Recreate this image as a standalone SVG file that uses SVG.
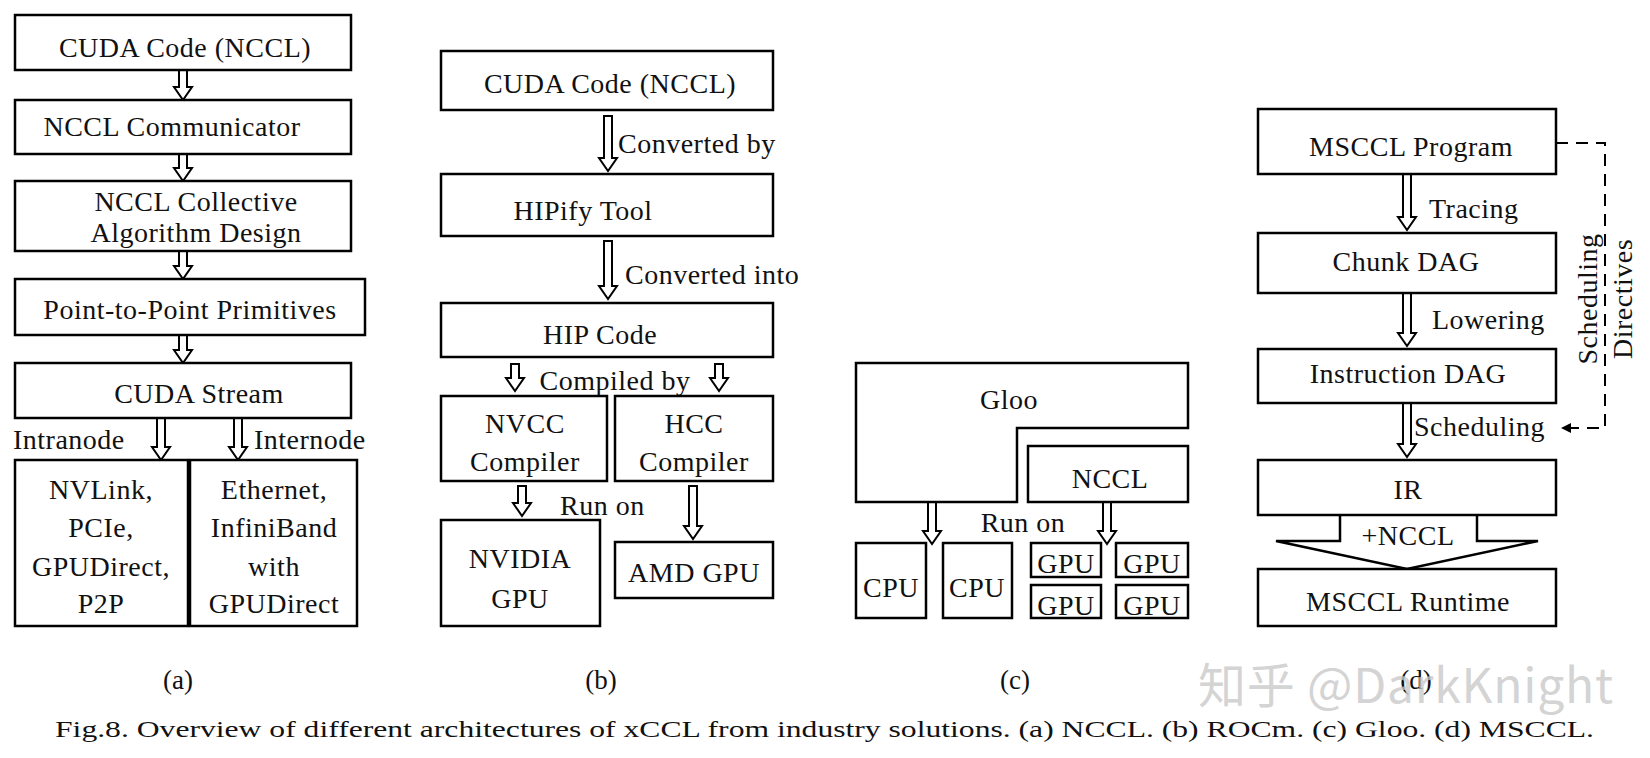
<svg xmlns="http://www.w3.org/2000/svg" width="1650" height="758" viewBox="0 0 1650 758">
<style>
rect,.b{fill:#fff;stroke:#000;stroke-width:2.5}
.a{fill:#fff;stroke:#000;stroke-width:2}
.d{fill:none;stroke:#000;stroke-width:2;stroke-dasharray:12 8}
text{font-family:"Liberation Serif","DejaVu Serif","Noto Serif",serif;font-size:28px;fill:#111;text-anchor:middle;letter-spacing:0.5px}
.l{text-anchor:start}
.cap{font-size:24px;letter-spacing:0}
.wm{font-family:"Noto Sans CJK SC","Liberation Sans",sans-serif;font-size:48px;fill:#c8c8c8;fill-opacity:0.8;text-anchor:start;letter-spacing:2px}
</style>
<defs>
<marker id="ah" viewBox="0 0 10 10" refX="9" refY="5" markerWidth="10" markerHeight="10" markerUnits="userSpaceOnUse" orient="auto"><path d="M0 0L10 5L0 10Z" fill="#000"/></marker>
</defs>
<rect x="0" y="0" width="1650" height="758" style="fill:#fff;stroke:none"/>
<g id="connectors">
<path class="a" d="M179 70V87H174L183 100L192 87H187V70Z"/>
<path class="a" d="M179 154V168H174L183 181L192 168H187V154Z"/>
<path class="a" d="M179 251V266H174L183 279L192 266H187V251Z"/>
<path class="a" d="M179 335V350H174L183 363L192 350H187V335Z"/>
<path class="a" d="M157 418V447H152L161 460L170 447H165V418Z"/>
<path class="a" d="M234 418V447H229L238 460L247 447H242V418Z"/>
<path class="a" d="M604 116V158H599L608 171L617 158H612V116Z"/>
<path class="a" d="M604 241V286H599L608 299L617 286H612V241Z"/>
<path class="a" d="M511 364V378H506L515 391L524 378H519V364Z"/>
<path class="a" d="M715 364V378H710L719 391L728 378H723V364Z"/>
<path class="a" d="M518 486V503H513L522 516L531 503H526V486Z"/>
<path class="a" d="M689 486V526H684L693 539L702 526H697V486Z"/>
<path class="a" d="M928 502V531H923L932 544L941 531H936V502Z"/>
<path class="a" d="M1103 502V531H1098L1107 544L1116 531H1111V502Z"/>
<path class="a" d="M1403 174V217H1398L1407 230L1416 217H1411V174Z"/>
<path class="a" d="M1403 293V333H1398L1407 346L1416 333H1411V293Z"/>
<path class="a" d="M1403 403V444H1398L1407 457L1416 444H1411V403Z"/>
<path class="b" d="M1340 515V541H1276L1407 569L1538 541H1477V515"/>
<path class="d" d="M1556 143H1605V428H1562" marker-end="url(#ah)"/>
</g>
<g id="a-cuda"><rect x="15" y="15" width="336" height="55"/><text x="185" y="57">CUDA Code (NCCL)</text></g>
<g id="a-comm"><rect x="15" y="100" width="336" height="54"/><text x="172" y="136">NCCL Communicator</text></g>
<g id="a-algo"><rect x="15" y="181" width="336" height="70"/><text x="196" y="211">NCCL Collective</text><text x="196" y="242">Algorithm Design</text></g>
<g id="a-p2p"><rect x="15" y="279" width="350" height="56"/><text x="190" y="319">Point-to-Point Primitives</text></g>
<g id="a-stream"><rect x="15" y="363" width="336" height="55"/><text x="199" y="403">CUDA Stream</text></g>
<text class="l" x="13" y="449">Intranode</text>
<text class="l" x="254" y="449">Internode</text>
<g id="a-intra"><rect x="15" y="460" width="173" height="166"/><text x="101" y="499">NVLink,</text><text x="101" y="537">PCIe,</text><text x="101" y="576">GPUDirect,</text><text x="101" y="613">P2P</text></g>
<g id="a-inter"><rect x="190" y="460" width="167" height="166"/><text x="274" y="499">Ethernet,</text><text x="274" y="537">InfiniBand</text><text x="274" y="576">with</text><text x="274" y="613">GPUDirect</text></g>

<g id="b-cuda"><rect x="441" y="51" width="332" height="59"/><text x="610" y="93">CUDA Code (NCCL)</text></g>
<text class="l" x="618" y="153">Converted by</text>
<g id="b-hipify"><rect x="441" y="174" width="332" height="62"/><text x="583" y="220">HIPify Tool</text></g>
<text class="l" x="625" y="284">Converted into</text>
<g id="b-hip"><rect x="441" y="303" width="332" height="54"/><text x="600" y="344">HIP Code</text></g>
<text x="615" y="390">Compiled by</text>
<g id="b-nvcc"><rect x="441" y="396" width="166" height="85"/><text x="525" y="433">NVCC</text><text x="525" y="471">Compiler</text></g>
<g id="b-hcc"><rect x="615" y="396" width="158" height="85"/><text x="694" y="433">HCC</text><text x="694" y="471">Compiler</text></g>
<text class="l" x="560" y="515">Run on</text>
<g id="b-nvidia"><rect x="441" y="520" width="159" height="106"/><text x="520" y="568">NVIDIA</text><text x="520" y="608">GPU</text></g>
<g id="b-amd"><rect x="615" y="542" width="158" height="56"/><text x="694" y="582">AMD GPU</text></g>

<g id="c-gloo"><path class="b" d="M856 363H1188V428H1017V502H856Z"/><text x="1009" y="409">Gloo</text></g>
<g id="c-nccl"><rect x="1028" y="446" width="160" height="56"/><text x="1110" y="488">NCCL</text></g>
<text x="1023" y="532">Run on</text>
<g id="c-cpu1"><rect x="856" y="543" width="70" height="75"/><text x="891" y="597">CPU</text></g>
<g id="c-cpu2"><rect x="943" y="543" width="69" height="75"/><text x="977" y="597">CPU</text></g>
<g id="c-gpu1"><rect x="1031" y="543" width="70" height="34"/><text x="1066" y="573">GPU</text></g>
<g id="c-gpu2"><rect x="1116" y="543" width="72" height="34"/><text x="1152" y="573">GPU</text></g>
<g id="c-gpu3"><rect x="1031" y="585" width="70" height="33"/><text x="1066" y="615">GPU</text></g>
<g id="c-gpu4"><rect x="1116" y="585" width="72" height="33"/><text x="1152" y="615">GPU</text></g>

<g id="d-prog"><rect x="1258" y="109" width="298" height="65"/><text x="1411" y="156">MSCCL Program</text></g>
<text class="l" x="1429" y="218">Tracing</text>
<g id="d-chunk"><rect x="1258" y="233" width="298" height="60"/><text x="1406" y="271">Chunk DAG</text></g>
<text class="l" x="1432" y="329">Lowering</text>
<g id="d-instr"><rect x="1258" y="349" width="298" height="54"/><text x="1408" y="383">Instruction DAG</text></g>
<text class="l" x="1414" y="436">Scheduling</text>
<g id="d-ir"><rect x="1258" y="460" width="298" height="55"/><text x="1408" y="499">IR</text></g>
<text x="1408" y="545">+NCCL</text>
<g id="d-runtime"><rect x="1258" y="569" width="298" height="57"/><text x="1408" y="611">MSCCL Runtime</text></g>
<text transform="translate(1597 299) rotate(-90)">Scheduling</text>
<text transform="translate(1632 299) rotate(-90)">Directives</text>

<text x="178" y="689" class="cap" style="font-size:27px">(a)</text>
<text x="601" y="689" class="cap" style="font-size:27px">(b)</text>
<text x="1015" y="689" class="cap" style="font-size:27px">(c)</text>
<text x="1416" y="689" class="cap" style="font-size:27px">(d)</text>
<text class="wm" x="1198" y="703" textLength="417">知乎 @DarkKnight</text>
<text class="cap l" x="55" y="737" textLength="1539" lengthAdjust="spacingAndGlyphs">Fig.8.  Overview of different architectures of xCCL from industry solutions. (a) NCCL. (b) ROCm. (c) Gloo. (d) MSCCL.</text>
</svg>
